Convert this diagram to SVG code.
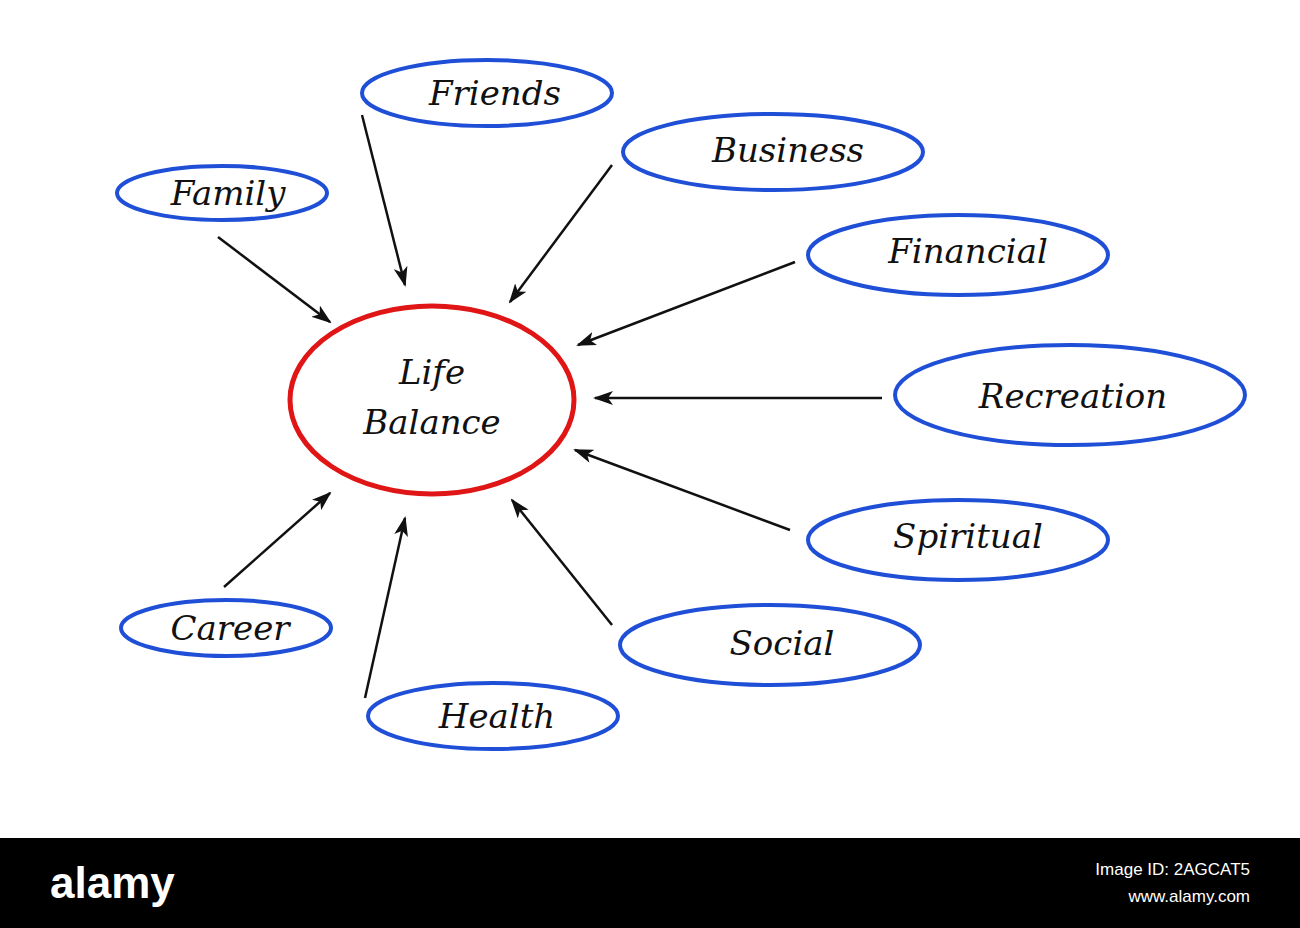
<svg xmlns="http://www.w3.org/2000/svg" width="1300" height="928" viewBox="0 0 1300 928">
<style>
.n{fill:none;stroke:#1f4fd6;stroke-width:4}
.t{font-family:"DejaVu Serif",serif;font-style:italic;font-size:34px;fill:#111;text-anchor:middle}
.c line{stroke:#111;stroke-width:2.5;marker-end:url(#a)}
</style>
<defs><marker id="a" markerWidth="20" markerHeight="14" refX="18" refY="7" orient="auto" markerUnits="userSpaceOnUse" viewBox="0 0 20 14"><path d="M0,0L20,7L0,14L5,7Z" fill="#111"/></marker></defs>
<rect width="1300" height="928" fill="#fff"/>
<g id="center"><ellipse cx="432" cy="400" rx="142" ry="94" fill="none" stroke="#e01515" stroke-width="5"/><text class="t" x="432" y="384" font-size="40">Life</text><text class="t" x="432" y="434" font-size="40">Balance</text></g>
<g id="friends"><ellipse class="n" cx="487" cy="93" rx="125" ry="33"/><text class="t" x="495" y="105">Friends</text></g>
<g id="family"><ellipse class="n" cx="222" cy="193" rx="105" ry="27"/><text class="t" x="228" y="205">Family</text></g>
<g id="business"><ellipse class="n" cx="773" cy="152" rx="150" ry="38"/><text class="t" x="788" y="162">Business</text></g>
<g id="financial"><ellipse class="n" cx="958" cy="255" rx="150" ry="40"/><text class="t" x="968" y="263">Financial</text></g>
<g id="recreation"><ellipse class="n" cx="1070" cy="395" rx="175" ry="50"/><text class="t" x="1073" y="408">Recreation</text></g>
<g id="spiritual"><ellipse class="n" cx="958" cy="540" rx="150" ry="40"/><text class="t" x="968" y="548">Spiritual</text></g>
<g id="social"><ellipse class="n" cx="770" cy="645" rx="150" ry="40"/><text class="t" x="782" y="655">Social</text></g>
<g id="career"><ellipse class="n" cx="226" cy="628" rx="105" ry="28"/><text class="t" x="230" y="640">Career</text></g>
<g id="health"><ellipse class="n" cx="493" cy="716" rx="125" ry="33"/><text class="t" x="497" y="728">Health</text></g>
<g class="c">
<line x1="218" y1="237" x2="330" y2="322"/>
<line x1="362" y1="115" x2="405" y2="285"/>
<line x1="612" y1="165" x2="510" y2="302"/>
<line x1="795" y1="262" x2="578" y2="345"/>
<line x1="882" y1="398" x2="595" y2="398"/>
<line x1="790" y1="530" x2="575" y2="450"/>
<line x1="612" y1="625" x2="512" y2="500"/>
<line x1="365" y1="698" x2="405" y2="518"/>
<line x1="224" y1="587" x2="330" y2="493"/>
</g>
<g id="watermark"><rect x="0" y="838" width="1300" height="90" fill="#000"/>
<text x="50" y="898" font-family="Liberation Sans,sans-serif" font-weight="bold" font-size="44" fill="#fff">alamy</text>
<text x="1250" y="875" font-family="Liberation Sans,sans-serif" font-size="17" fill="#fff" text-anchor="end">Image ID: 2AGCAT5</text>
<text x="1250" y="902" font-family="Liberation Sans,sans-serif" font-size="17" fill="#fff" text-anchor="end">www.alamy.com</text></g>
</svg>
